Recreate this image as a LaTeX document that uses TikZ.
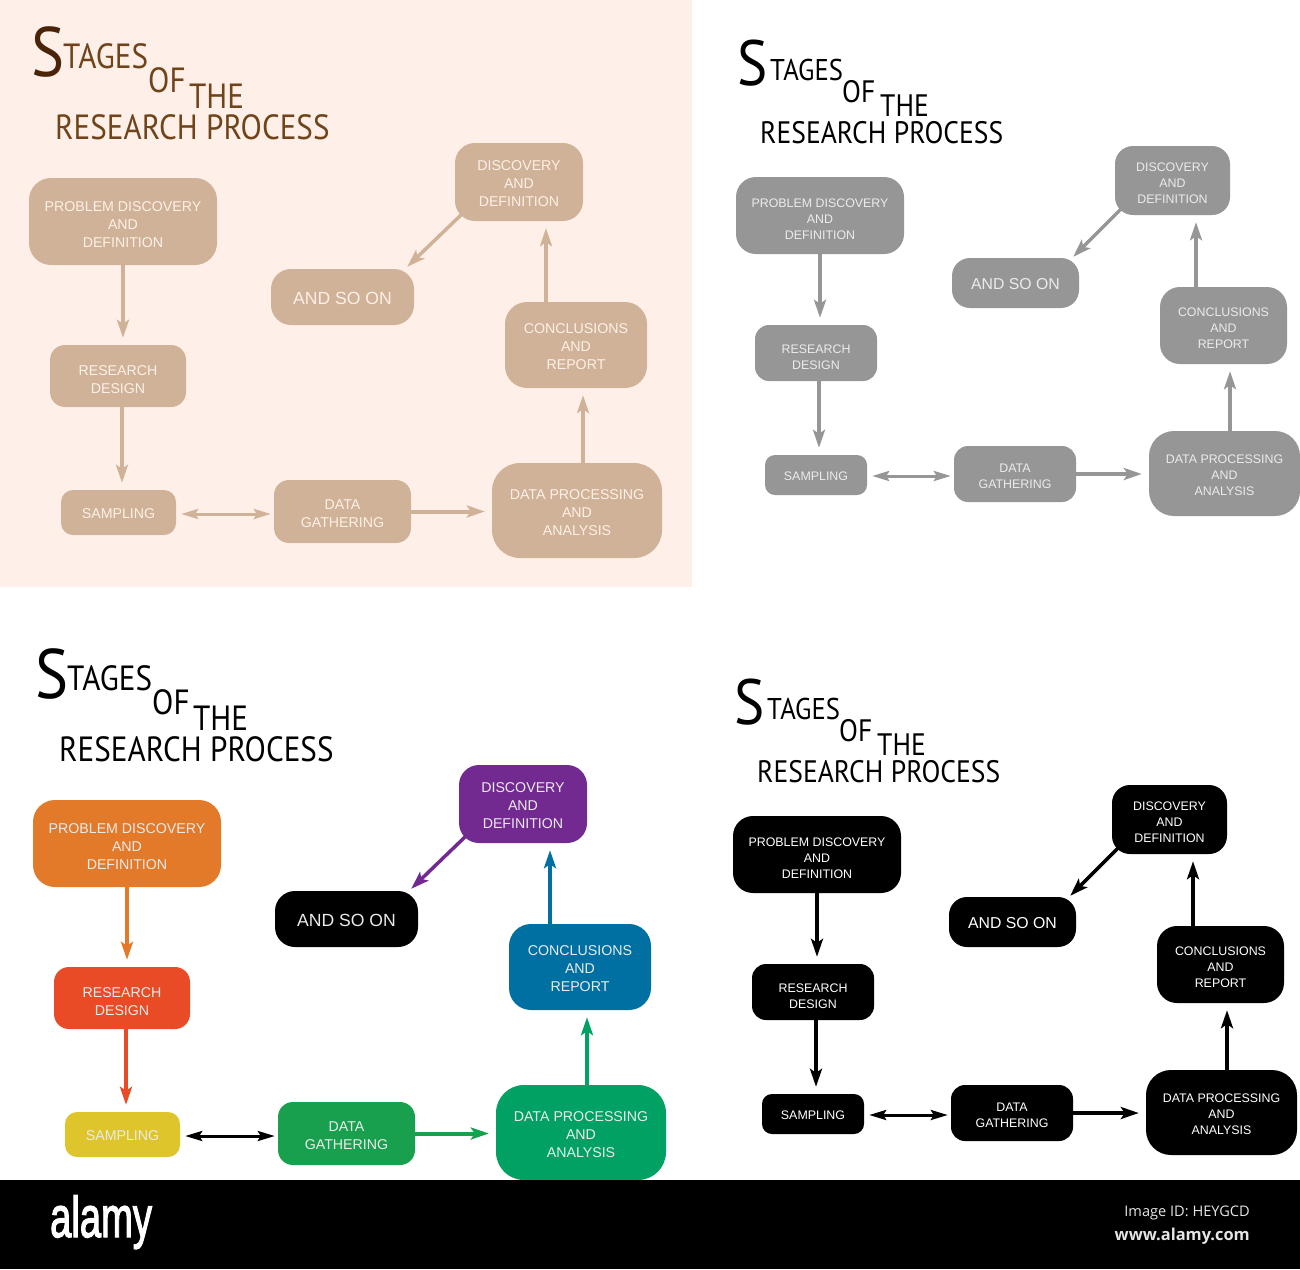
\documentclass[tikz,border=0pt]{standalone}
\usepackage{fontspec}
\setmainfont{Liberation Sans}
\newfontfamily\titlefont[FakeStretch=0.89]{PT Sans}
\newfontfamily\markfont{Open Sans}
\newfontfamily\logofont[FakeBold=2.5]{Liberation Sans}
\usetikzlibrary{arrows.meta,calc}
\tikzset{
  stagebox/.style={rounded corners=#1,text=boxtext,align=center,inner sep=0pt},
  bigtext/.style={font=\fontsize{14.2}{18}\selectfont},
  smalltext/.style={font=\fontsize{12.4}{16}\selectfont},
  titleword/.style={anchor=base west,inner sep=0pt,text=titlecol,font=\titlefont\fontsize{#1}{#1}\selectfont},
  flow/.style={-{Stealth[length=18pt,width=12pt,inset=4pt]},line width=4pt,shorten >=7pt},
  flowtwo/.style={{Stealth[length=17pt,width=10pt,inset=3pt]}-{Stealth[length=17pt,width=10pt,inset=3pt]},line width=3pt,shorten <=5pt,shorten >=3pt}
}
\newcommand{\lift}[1]{\rule{0pt}{#1pt}}
\newcommand{\stagecolours}[9]{%
  \colorlet{probcol}{#1}\colorlet{designcol}{#2}\colorlet{samplecol}{#3}%
  \colorlet{gathercol}{#4}\colorlet{analysiscol}{#5}\colorlet{reportcol}{#6}%
  \colorlet{discovercol}{#7}\colorlet{socol}{#8}\colorlet{twocol}{#9}}
% big layout, top left and bottom left
\newcommand{\bigstages}{%
  \node[titleword=70,text=titlecap] (s) at (31,76) {S};
  \node[titleword=35] (tages) at (63,68) {TAGES};
  \node[titleword=35] (of) at (148,92) {OF};
  \node[titleword=35] (the) at (189,108) {THE};
  \node[titleword=35] (research) at (55,139) {RESEARCH PROCESS};
  \node[stagebox=22pt,bigtext,fill=probcol,minimum width=188pt,minimum height=87pt] (prob) at (123,221.5) {\lift{16}PROBLEM DISCOVERY\\AND\\DEFINITION};
  \node[stagebox=15pt,bigtext,fill=designcol,minimum width=136pt,minimum height=62pt] (design) at (118,376) {\lift{18}RESEARCH\\DESIGN};
  \node[stagebox=12pt,bigtext,fill=samplecol,minimum width=115pt,minimum height=45pt] (sampling) at (118.5,512.5) {\lift{12}SAMPLING};
  \node[stagebox=15pt,bigtext,fill=gathercol,minimum width=137pt,minimum height=63pt] (gather) at (342.5,511.5) {\lift{14}DATA\\GATHERING};
  \node[stagebox=28pt,bigtext,fill=analysiscol,minimum width=170pt,minimum height=95pt] (analysis) at (577,510.5) {\lift{14}DATA PROCESSING\\AND\\ANALYSIS};
  \node[stagebox=22pt,bigtext,fill=reportcol,minimum width=142pt,minimum height=86pt] (report) at (576,345) {\lift{14}CONCLUSIONS\\AND\\REPORT};
  \node[stagebox=20pt,bigtext,fill=discovercol,minimum width=128pt,minimum height=78pt] (discover) at (519,182) {\lift{13}DISCOVERY\\AND\\DEFINITION};
  \node[stagebox=20pt,font=\fontsize{17.6}{18}\selectfont,fill=socol,minimum width=143pt,minimum height=56pt] (so) at (342.5,297) {\lift{16}AND SO ON};
  \draw[flow,draw=probcol] (prob.south) -- (prob.south |- design.north);
  \draw[flow,draw=designcol] ([xshift=4pt]design.south) -- ([xshift=4pt]design.south |- sampling.north);
  \draw[flowtwo,draw=twocol] ($(sampling.east)+(0,1.5)$) -- ($(sampling.east -| gather.west)+(0,1.5)$);
  \draw[flow,draw=gathercol] (gather.east) -- (gather.east -| analysis.west);
  \draw[flow,draw=analysiscol] ([xshift=6pt]analysis.north) -- ([xshift=6pt]analysis.north |- report.south);
  \draw[flow,draw=reportcol] ([xshift=-30pt]report.north) -- ([xshift=-30pt]report.north |- discover.south);
  \draw[flow,draw=discovercol,line width=3.5pt,shorten >=0pt] ($(discover.south west)+(8,-8)$) -- ($(so.north east)+(-7,-2)$);
}
% small layout, top right and bottom right
\newcommand{\smallstages}{%
  \node[titleword=64,text=titlecap] (s) at (737,85) {S};
  \node[titleword=30] (tages) at (770,80) {TAGES};
  \node[titleword=31] (of) at (842,102) {OF};
  \node[titleword=31] (the) at (880,116) {THE};
  \node[titleword=31] (research) at (760,143) {RESEARCH PROCESS};
  \node[stagebox=20pt,smalltext,fill=probcol,minimum width=168pt,minimum height=77pt] (prob) at (820,215.5) {\lift{16}PROBLEM DISCOVERY\\AND\\DEFINITION};
  \node[stagebox=14pt,smalltext,fill=designcol,minimum width=122pt,minimum height=56pt] (design) at (816,353) {\lift{18}RESEARCH\\DESIGN};
  \node[stagebox=10pt,smalltext,fill=samplecol,minimum width=102pt,minimum height=40pt] (sampling) at (816,475) {\lift{11}SAMPLING};
  \node[stagebox=14pt,smalltext,fill=gathercol,minimum width=122pt,minimum height=56pt] (gather) at (1015,474) {\lift{14}DATA\\GATHERING};
  \node[stagebox=25pt,smalltext,fill=analysiscol,minimum width=151pt,minimum height=85pt] (analysis) at (1224.5,473.5) {\lift{13}DATA PROCESSING\\AND\\ANALYSIS};
  \node[stagebox=20pt,smalltext,fill=reportcol,minimum width=127pt,minimum height=77pt] (report) at (1223.5,325.5) {\lift{14}CONCLUSIONS\\AND\\REPORT};
  \node[stagebox=18pt,smalltext,fill=discovercol,minimum width=115pt,minimum height=69pt] (discover) at (1172.5,180.5) {\lift{14}DISCOVERY\\AND\\DEFINITION};
  \node[stagebox=18pt,font=\fontsize{15.8}{18}\selectfont,fill=socol,minimum width=127pt,minimum height=50pt] (so) at (1015.5,283) {\lift{14}AND SO ON};
  \draw[flow,draw=probcol,line width=3.5pt] (prob.south) -- (prob.south |- design.north);
  \draw[flow,draw=designcol,line width=3.5pt] ([xshift=3pt]design.south) -- ([xshift=3pt]design.south |- sampling.north);
  \draw[flowtwo,draw=twocol] ($(sampling.east)+(0,1)$) -- ($(sampling.east -| gather.west)+(0,1)$);
  \draw[flow,draw=gathercol,line width=3.5pt] (gather.east) -- (gather.east -| analysis.west);
  \draw[flow,draw=analysiscol,line width=3.5pt] ([xshift=5.5pt]analysis.north) -- ([xshift=5.5pt]analysis.north |- report.south);
  \draw[flow,draw=reportcol,line width=3.5pt] ([xshift=-27.5pt]report.north) -- ([xshift=-27.5pt]report.north |- discover.south);
  \draw[flow,draw=discovercol,line width=3.5pt,shorten >=0pt] ($(discover.south west)+(7,-7)$) -- ($(so.north east)+(-6,-1)$);
}
\definecolor{peach}{HTML}{FEF0E8}
\definecolor{tan}{HTML}{CFB297}
\definecolor{greybox}{HTML}{969696}
\definecolor{orangebox}{HTML}{E27A29}
\definecolor{redbox}{HTML}{E84B26}
\definecolor{yellowbox}{HTML}{DDC52B}
\definecolor{greenbox}{HTML}{18A04E}
\definecolor{tealbox}{HTML}{00A162}
\definecolor{bluebox}{HTML}{0070A2}
\definecolor{purplebox}{HTML}{722A90}
\begin{document}
\begin{tikzpicture}[x=1pt,y=-1pt]
  \useasboundingbox (0,0) rectangle (1300,1269);
  \fill[white] (0,0) rectangle (1300,1269);
  \fill[peach] (0,0) rectangle (692,587);
  % top left
  \begin{scope}[name prefix=a-]
    \definecolor{titlecol}{HTML}{70441A}
    \definecolor{titlecap}{HTML}{4A2409}
    \colorlet{boxtext}{peach}
    \stagecolours{tan}{tan}{tan}{tan}{tan}{tan}{tan}{tan}{tan}
    \bigstages
  \end{scope}
  % top right
  \begin{scope}[name prefix=b-]
    \colorlet{titlecol}{black}
    \colorlet{titlecap}{black}
    \colorlet{boxtext}{white!92!black}
    \stagecolours{greybox}{greybox}{greybox}{greybox}{greybox}{greybox}{greybox}{greybox}{greybox}
    \smallstages
  \end{scope}
  % bottom left
  \begin{scope}[name prefix=c-,shift={(4,622)}]
    \colorlet{titlecol}{black}
    \colorlet{titlecap}{black}
    \colorlet{boxtext}{white!92!black}
    \stagecolours{orangebox}{redbox}{yellowbox}{greenbox}{tealbox}{bluebox}{purplebox}{black}{black}
    \bigstages
  \end{scope}
  % bottom right
  \begin{scope}[name prefix=d-,shift={(-3,639)}]
    \colorlet{titlecol}{black}
    \colorlet{titlecap}{black}
    \colorlet{boxtext}{white}
    \stagecolours{black}{black}{black}{black}{black}{black}{black}{black}{black}
    \smallstages
  \end{scope}
  % footer band
  \fill[black] (0,1180) rectangle (1300,1269);
  \node[anchor=base west,inner sep=0pt,text=white,xscale=.83,yscale=1.25,font=\logofont\fontsize{46}{46}\selectfont] (logo) at (50,1237) {alamy};
  \node[anchor=base east,inner sep=0pt,text=white!90!black,font=\markfont\fontsize{14.6}{14.6}\selectfont] (imageid) at (1250,1216) {Image ID: HEYGCD};
  \node[anchor=base east,inner sep=0pt,text=white!90!black,font=\markfont\bfseries\fontsize{16.4}{16.4}\selectfont] (site) at (1250,1240) {www.alamy.com};
\end{tikzpicture}
\end{document}
